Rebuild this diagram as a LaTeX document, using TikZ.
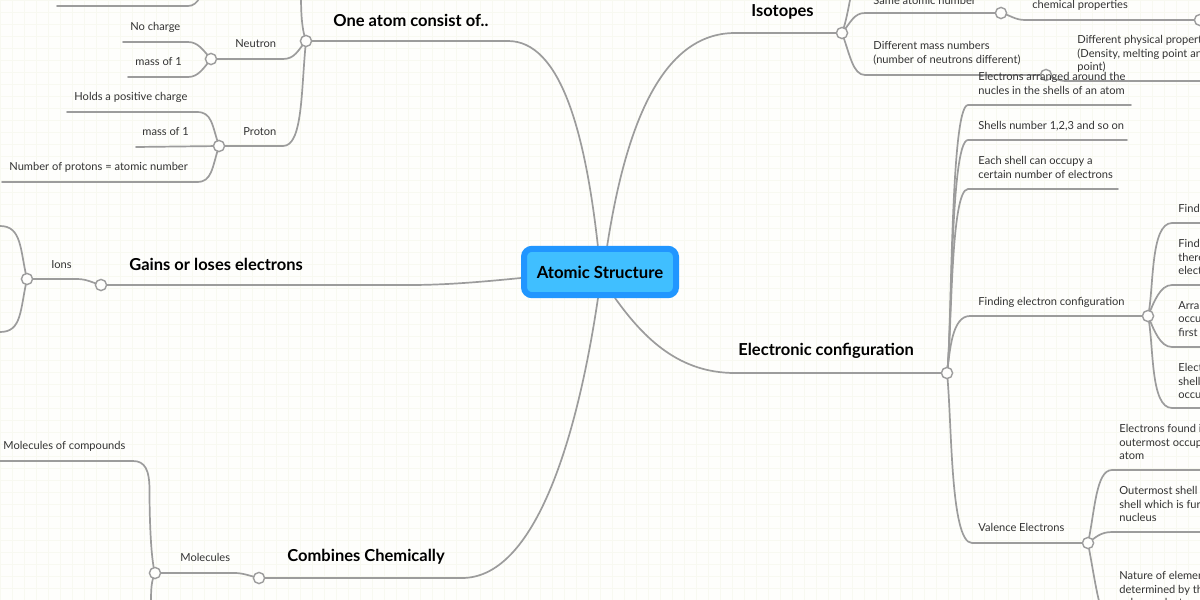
\documentclass[tikz,border=0pt]{standalone}
\usepackage{fontspec}
\setmainfont{Lato}
\definecolor{bgc}{HTML}{FEFEFC}
\definecolor{gridc}{HTML}{F8F9F1}
\definecolor{linec}{HTML}{9C9C9C}
\definecolor{txtc}{HTML}{333333}
\definecolor{boxb}{HTML}{2196FF}
\definecolor{boxf}{HTML}{40BFFF}
\tikzset{x=0.5pt,y=-0.5pt,
 conn/.style={draw=linec,line width=0.85pt,line cap=round},
 joint/.style={circle,draw=linec,fill=bgc,line width=0.7pt,minimum size=5.6pt,inner sep=0pt},
 lab/.style={font=\fontsize{5.55}{6.65}\selectfont,text=txtc,anchor=north west,inner sep=0pt,align=left,yshift=-1.1pt},
 head/.style={font=\fontsize{8.25}{9}\selectfont\bfseries,text=black,anchor=west,inner sep=0pt,yshift=-0.5pt}}
\begin{document}
\begin{tikzpicture}
\useasboundingbox (0,0) rectangle (1200,600);
\clip (0,0) rectangle (1200,600);
\fill[bgc] (0,0) rectangle (1200,600);
\draw[gridc,line width=0.4pt,step=6pt] (0,0) grid (1200,600);
% joints
\coordinate (ctop1) at (598,247); \coordinate (ctop2) at (607,247);
\coordinate (cbot1) at (598,298); \coordinate (cbot2) at (615,298);
\coordinate (cleft) at (521,278);
\coordinate (jatom) at (306,41); \coordinate (jneu) at (211,59); \coordinate (jpro) at (219,146);
\coordinate (jgain) at (101,285); \coordinate (jion) at (27,279);
\coordinate (jcomb) at (259,578); \coordinate (jmol) at (155,573);
\coordinate (jiso) at (842,33); \coordinate (jsame) at (1001,13); \coordinate (jdiff) at (1046,75);
\coordinate (jele) at (947,373); \coordinate (jfind) at (1148,316); \coordinate (jval) at (1088,543);
% main branches
\draw[conn] (jatom) -- (508,41) .. controls (560,41) and (585,130) .. (ctop1);
\draw[conn] (jgain) -- (410,285) .. controls (450,285) and (490,281) .. (cleft);
\draw[conn] (jcomb) -- (462,578) .. controls (540,578) and (580,420) .. (cbot1);
\draw[conn] (jiso) -- (735,33) .. controls (660,33) and (625,130) .. (ctop2);
\draw[conn] (jele) -- (735,373) .. controls (680,373) and (645,340) .. (cbot2);
% one atom
\draw[conn] (jatom) .. controls (302,30) and (301,15) .. (301,-5);
\draw[conn] (jatom) .. controls (298,50) and (295,59) .. (283,59) -- (jneu);
\draw[conn] (jatom) .. controls (301,90) and (303,146) .. (283,146) -- (jpro);
\draw[conn] (57,6) -- (188,6) .. controls (193,6) and (197,3) .. (200,-3);
\draw[conn] (jneu) .. controls (203,50) and (198,42) .. (188,42) -- (123,42);
\draw[conn] (jneu) .. controls (203,69) and (198,77) .. (188,77) -- (128,77);
\draw[conn] (jpro) .. controls (212,125) and (212,112) .. (197,112) -- (67,112);
\draw[conn] (jpro) -- (136,147);
\draw[conn] (jpro) .. controls (212,168) and (212,182) .. (197,182) -- (2,182);
% gains
\draw[conn] (jgain) .. controls (93,283) and (87,279) .. (77,279) -- (jion);
\draw[conn] (jion) .. controls (20,250) and (22,226) .. (0,226);
\draw[conn] (jion) .. controls (20,310) and (22,332) .. (0,332);
% combines
\draw[conn] (jcomb) .. controls (250,576) and (243,573) .. (235,573) -- (jmol);
\draw[conn] (jmol) .. controls (151,560) and (149.5,520) .. (149.5,490) .. controls (149.5,470) and (145,461) .. (133,461) -- (-2,461);
\draw[conn] (jmol) .. controls (151,582) and (151,590) .. (151,605);
% isotopes
\draw[conn] (jiso) .. controls (846,22) and (848,10) .. (851,-5);
\draw[conn] (jiso) .. controls (851,22) and (854,13) .. (865,13) -- (jsame);
\draw[conn] (jiso) .. controls (850,55) and (853,75) .. (865,75) -- (jdiff);
\draw[conn] (jsame) .. controls (1010,15) and (1015,20) .. (1025,20) -- (1205,20);
\draw[conn] (jdiff) .. controls (1054,78) and (1058,81) .. (1066,81) -- (1205,81);
% electronic
\draw[conn] (jele) .. controls (952,340) and (950,105) .. (968,105) -- (1131,105);
\draw[conn] (jele) .. controls (952,340) and (950,140) .. (968,140) -- (1127,140);
\draw[conn] (jele) .. controls (952,340) and (950,189) .. (968,189) -- (1118,189);
\draw[conn] (jele) .. controls (950,350) and (952,316) .. (970,316) -- (jfind);
\draw[conn] (jele) .. controls (952,420) and (950,543) .. (972,543) -- (jval);
% finding
\draw[conn] (jfind) .. controls (1154,290) and (1150,223) .. (1172,223) -- (1205,223);
\draw[conn] (jfind) .. controls (1154,302) and (1160,285) .. (1172,285) -- (1205,285);
\draw[conn] (jfind) .. controls (1154,330) and (1160,347) .. (1172,347) -- (1205,347);
\draw[conn] (jfind) .. controls (1154,345) and (1150,408) .. (1172,408) -- (1205,408);
% valence
\draw[conn] (jval) .. controls (1095,510) and (1096,470) .. (1112,470) -- (1205,470);
\draw[conn] (jval) .. controls (1095,538) and (1100,532) .. (1112,532) -- (1205,532);
\draw[conn] (jval) .. controls (1093,570) and (1096,590) .. (1100,605);
% joint circles
\foreach \j in {jatom,jneu,jpro,jgain,jion,jcomb,jmol,jiso,jsame,jdiff,jele,jfind,jval}
  \node[joint] at (\j) {};
\node[joint] at (1200,20) {};
% centre
\node[draw=boxb,fill=boxf,rounded corners=4pt,line width=3pt,minimum width=76pt,minimum height=23.2pt,inner sep=0pt,font=\fontsize{8.35}{9}\selectfont\bfseries,text=black] (root) at (600,272) {Atomic Structure};
% headings
\node[head] at (333,19) {One atom consist of..};
\node[head] at (129,263) {Gains or loses electrons};
\node[head] at (287,556) {Combines Chemically};
\node[head] at (751,11) {Isotopes};
\node[head] at (738,350) {Electronic configuration};
% labels
\node[lab] at (130,20) {No charge};
\node[lab] at (135,55) {mass of 1};
\node[lab] at (235,37) {Neutron};
\node[lab] at (74,90) {Holds a positive charge};
\node[lab] at (142,125) {mass of 1};
\node[lab] at (243,125) {Proton};
\node[lab] at (9,160) {Number of protons = atomic number};
\node[lab] at (51,258) {Ions};
\node[lab] at (3,439) {Molecules of compounds};
\node[lab] at (180,551) {Molecules};
\node[lab] at (873,-6) {Same atomic number};
\node[lab] at (1032,-2) {chemical properties};
\node[lab] at (873,39) {Different mass numbers\\(number of neutrons different)};
\node[lab] at (1077,33) {Different physical properties\\(Density, melting point and\\point)};
\node[lab] at (978,70) {Electrons arranged around the\\nucles in the shells of an atom};
\node[lab] at (978,119) {Shells number 1,2,3 and so on};
\node[lab] at (978,154) {Each shell can occupy a\\certain number of electrons};
\node[lab] at (978,295) {Finding electron configuration};
\node[lab] at (978,521) {Valence Electrons};
\node[lab] at (1178,202) {Find};
\node[lab] at (1178,237) {Find\\there\\elect};
\node[lab] at (1178,299) {Arran\\occu\\first};
\node[lab] at (1178,361) {Elect\\shell\\occu};
\node[lab] at (1119,422) {Electrons found i\\outermost occup\\atom};
\node[lab] at (1119,484) {Outermost shell\\shell which is fur\\nucleus};
\node[lab] at (1119,569) {Nature of elemen\\determined by th\\valence elect};
\end{tikzpicture}
\end{document}
